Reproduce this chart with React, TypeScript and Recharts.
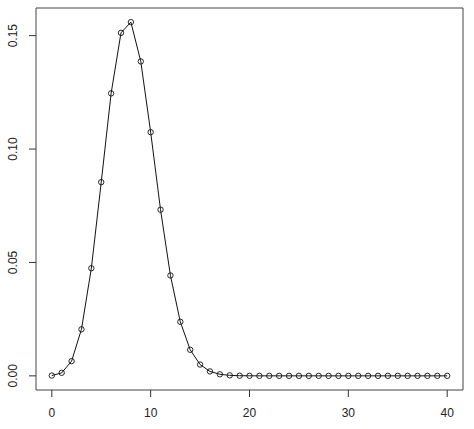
import React from 'react';
import { LineChart, Line, XAxis, YAxis, ReferenceArea } from 'recharts';

const xValues = [0,1,2,3,4,5,6,7,8,9,10,11,12,13,14,15,16,17,18,19,20,21,22,23,24,25,26,27,28,29,30,31,32,33,34,35,36,37,38,39,40];
const probValues = [
  0.00013, 0.00133, 0.00648, 0.02052, 0.04744, 0.08540, 0.12454, 0.15123, 0.15595, 0.13862,
  0.10743, 0.07325, 0.04426, 0.02383, 0.01149, 0.00498, 0.00195, 0.00069, 0.00022, 0.00006,
  0.00002, 0, 0, 0, 0, 0, 0, 0, 0, 0,
  0, 0, 0, 0, 0, 0, 0, 0, 0, 0, 0,
];
const xTicks = [0, 10, 20, 30, 40];
const yTicks = [0, 0.05, 0.1, 0.15];
const yTickLabels = ['0.00', '0.05', '0.10', '0.15'];

const data = xValues.map((x, i) => ({ x, y: probValues[i] }));

const FONT = '"Liberation Sans", Arial, sans-serif';

const YTick = (props: any) => {
  const { y, payload } = props;
  const idx = yTicks.indexOf(payload.value);
  const label = idx >= 0 ? yTickLabels[idx] : String(payload.value);
  return (
    <text
      x={13}
      y={y}
      transform={`rotate(-90, 13, ${y})`}
      textAnchor="middle"
      dominantBaseline="central"
      fontSize={12}
      fontFamily={FONT}
      fill="#222"
    >
      {label}
    </text>
  );
};

const XTick = (props: any) => {
  const { x, payload } = props;
  return (
    <text
      x={x}
      y={417}
      textAnchor="middle"
      fontSize={12}
      fontFamily={FONT}
      fill="#222"
    >
      {payload.value}
    </text>
  );
};

export default function App() {
  return (
    <div style={{ position: 'fixed', left: 0, top: 0, width: 474, height: 429, background: '#fff' }}>
      <LineChart
        width={474}
        height={429}
        data={data}
        margin={{ top: 8, right: 11, left: 0, bottom: 0 }}
      >
        <XAxis
          dataKey="x"
          type="number"
          domain={[-1.6, 41.6]}
          ticks={xTicks}
          height={39}
          tickSize={7}
          axisLine={false}
          tickLine={{ stroke: '#333', strokeWidth: 1 }}
          tick={<XTick />}
          allowDataOverflow
        />
        <YAxis
          type="number"
          domain={[-0.00624, 0.16218]}
          ticks={yTicks}
          width={36}
          tickSize={7}
          axisLine={false}
          tickLine={{ stroke: '#333', strokeWidth: 1 }}
          tick={<YTick />}
          allowDataOverflow
        />
        <ReferenceArea
          x1={-1.6}
          x2={41.6}
          y1={-0.00624}
          y2={0.16218}
          fill="none"
          fillOpacity={0}
          stroke="#444"
          strokeWidth={1}
          ifOverflow="visible"
        />
        <Line
          dataKey="y"
          type="linear"
          stroke="#111"
          strokeWidth={1}
          isAnimationActive={false}
          dot={{ r: 2.7, stroke: '#111', strokeWidth: 0.9, fill: 'none' }}
          activeDot={false}
        />
      </LineChart>
    </div>
  );
}
